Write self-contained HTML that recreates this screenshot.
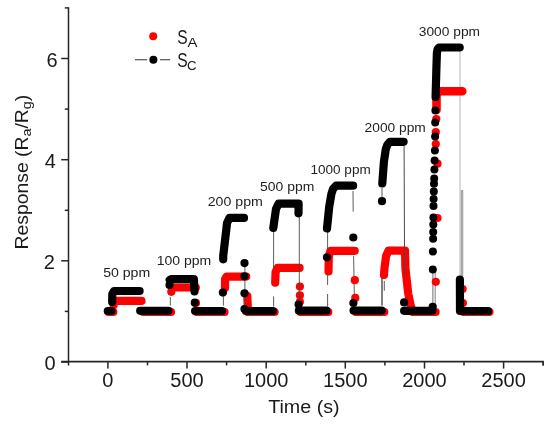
<!DOCTYPE html>
<html><head><meta charset="utf-8"><title>Response vs Time</title>
<style>
html,body{margin:0;padding:0;background:#fff;}
body{width:550px;height:427px;overflow:hidden;}
svg{display:block;}
text{font-family:"Liberation Sans",sans-serif;fill:#1a1a1a;}
.tk{font-size:20px;}
.al{font-size:18px;}
.yl{font-size:17.5px;}
.sub{font-size:13px;}
.pp{font-size:13px;fill:#222;}
.lg{font-size:19.5px;}
.lsub{font-size:13px;}
</style></head><body>
<svg width="550" height="427" viewBox="0 0 550 427">
<rect x="0" y="0" width="550" height="427" fill="#fff"/>
<line x1="68.5" y1="7.3" x2="68.5" y2="365.4" stroke="#262626" stroke-width="1.5"/>
<line x1="61.2" y1="361.6" x2="543.9" y2="361.6" stroke="#262626" stroke-width="1.9"/>
<line x1="61.2" y1="362.0" x2="68.3" y2="362.0" stroke="#262626" stroke-width="1.5"/>
<text x="50.0" y="370.0" text-anchor="middle" class="tk">0</text>
<line x1="64.8" y1="311.4" x2="68.3" y2="311.4" stroke="#262626" stroke-width="1.5"/>
<line x1="61.2" y1="260.8" x2="68.3" y2="260.8" stroke="#262626" stroke-width="1.5"/>
<text x="49.4" y="268.8" text-anchor="middle" class="tk">2</text>
<line x1="64.8" y1="210.3" x2="68.3" y2="210.3" stroke="#262626" stroke-width="1.5"/>
<line x1="61.2" y1="159.7" x2="68.3" y2="159.7" stroke="#262626" stroke-width="1.5"/>
<text x="50.3" y="167.7" text-anchor="middle" class="tk">4</text>
<line x1="64.8" y1="109.1" x2="68.3" y2="109.1" stroke="#262626" stroke-width="1.5"/>
<line x1="61.2" y1="58.5" x2="68.3" y2="58.5" stroke="#262626" stroke-width="1.5"/>
<text x="52.1" y="66.5" text-anchor="middle" class="tk">6</text>
<line x1="64.8" y1="7.9" x2="68.3" y2="7.9" stroke="#262626" stroke-width="1.5"/>
<line x1="107.9" y1="362" x2="107.9" y2="368.6" stroke="#262626" stroke-width="1.5"/>
<text x="107.9" y="386.8" text-anchor="middle" class="tk">0</text>
<line x1="147.5" y1="362" x2="147.5" y2="365.4" stroke="#262626" stroke-width="1.5"/>
<line x1="187.0" y1="362" x2="187.0" y2="368.6" stroke="#262626" stroke-width="1.5"/>
<text x="187.0" y="386.8" text-anchor="middle" class="tk">500</text>
<line x1="226.6" y1="362" x2="226.6" y2="365.4" stroke="#262626" stroke-width="1.5"/>
<line x1="266.2" y1="362" x2="266.2" y2="368.6" stroke="#262626" stroke-width="1.5"/>
<text x="266.2" y="386.8" text-anchor="middle" class="tk">1000</text>
<line x1="305.8" y1="362" x2="305.8" y2="365.4" stroke="#262626" stroke-width="1.5"/>
<line x1="345.3" y1="362" x2="345.3" y2="368.6" stroke="#262626" stroke-width="1.5"/>
<text x="345.3" y="386.8" text-anchor="middle" class="tk">1500</text>
<line x1="384.9" y1="362" x2="384.9" y2="365.4" stroke="#262626" stroke-width="1.5"/>
<line x1="424.5" y1="362" x2="424.5" y2="368.6" stroke="#262626" stroke-width="1.5"/>
<text x="424.5" y="386.8" text-anchor="middle" class="tk">2000</text>
<line x1="464.0" y1="362" x2="464.0" y2="365.4" stroke="#262626" stroke-width="1.5"/>
<line x1="503.6" y1="362" x2="503.6" y2="368.6" stroke="#262626" stroke-width="1.5"/>
<text x="503.6" y="386.8" text-anchor="middle" class="tk">2500</text>
<line x1="543.2" y1="362" x2="543.2" y2="365.4" stroke="#262626" stroke-width="1.5"/>
<line x1="543.2" y1="362" x2="543.2" y2="365.4" stroke="#262626" stroke-width="1.5"/>
<line x1="273.6" y1="232.0" x2="273.6" y2="284.0" stroke="#4a4a4a" stroke-width="0.90"/>
<line x1="327.6" y1="232.0" x2="327.6" y2="285.0" stroke="#4a4a4a" stroke-width="0.90"/>
<line x1="353.6" y1="256.0" x2="354.4" y2="299.0" stroke="#4a4a4a" stroke-width="0.90"/>
<line x1="382.0" y1="278.0" x2="382.0" y2="305.5" stroke="#4a4a4a" stroke-width="0.90"/>
<line x1="432.9" y1="272.0" x2="432.9" y2="305.0" stroke="#4a4a4a" stroke-width="0.80"/>
<line x1="435.2" y1="272.0" x2="435.2" y2="305.0" stroke="#4a4a4a" stroke-width="0.70"/>
<line x1="460.0" y1="47.5" x2="460.0" y2="279.0" stroke="#cfcfcf" stroke-width="1.50"/>
<line x1="462.0" y1="190.0" x2="462.0" y2="276.0" stroke="#a8a8a8" stroke-width="2.60"/>
<polyline points="108.5,312.0 113.3,312.0" stroke="#f00" stroke-width="8.2" fill="none" stroke-linecap="round" stroke-linejoin="round"/>
<polyline points="113.6,305.0 113.8,300.9 141.5,300.9" stroke="#f00" stroke-width="8.2" fill="none" stroke-linecap="round" stroke-linejoin="round"/>
<polyline points="143.4,312.0 171.0,312.0" stroke="#f00" stroke-width="8.2" fill="none" stroke-linecap="round" stroke-linejoin="round"/>
<circle cx="171.3" cy="291.8" r="4.1" fill="#f00"/>
<polyline points="172.0,287.5 195.8,287.5" stroke="#f00" stroke-width="8.2" fill="none" stroke-linecap="round" stroke-linejoin="round"/>
<circle cx="196.0" cy="303.1" r="4.1" fill="#f00"/>
<polyline points="196.5,312.0 224.5,312.0" stroke="#f00" stroke-width="8.2" fill="none" stroke-linecap="round" stroke-linejoin="round"/>
<polyline points="225.0,288.0 225.1,279.0 226.5,276.6 246.2,276.6" stroke="#f00" stroke-width="8.2" fill="none" stroke-linecap="round" stroke-linejoin="round"/>
<polyline points="247.3,296.0 248.0,312.0 274.6,312.0" stroke="#f00" stroke-width="8.2" fill="none" stroke-linecap="round" stroke-linejoin="round"/>
<polyline points="275.2,282.7 275.6,272.0 277.5,267.9 299.6,267.9" stroke="#f00" stroke-width="8.2" fill="none" stroke-linecap="round" stroke-linejoin="round"/>
<circle cx="299.9" cy="286.6" r="4.1" fill="#f00"/>
<circle cx="299.9" cy="295.3" r="4.1" fill="#f00"/>
<circle cx="299.9" cy="301.8" r="4.1" fill="#f00"/>
<polyline points="300.5,312.0 328.3,312.0" stroke="#f00" stroke-width="8.2" fill="none" stroke-linecap="round" stroke-linejoin="round"/>
<polyline points="328.5,271.5 328.8,256.0 330.5,250.8 354.7,250.8" stroke="#f00" stroke-width="8.2" fill="none" stroke-linecap="round" stroke-linejoin="round"/>
<circle cx="354.8" cy="280.2" r="4.1" fill="#f00"/>
<circle cx="355.3" cy="297.9" r="4.1" fill="#f00"/>
<polyline points="356.0,312.0 384.3,312.0" stroke="#f00" stroke-width="8.2" fill="none" stroke-linecap="round" stroke-linejoin="round"/>
<polyline points="384.0,275.0 384.5,268.0 386.1,256.0 388.5,250.6 405.0,250.6 405.4,268.0 408.2,293.5 410.8,306.0 413.0,312.0 435.6,312.0" stroke="#f00" stroke-width="8.2" fill="none" stroke-linecap="round" stroke-linejoin="round"/>
<circle cx="435.8" cy="281.8" r="4.1" fill="#f00"/>
<circle cx="437.5" cy="218.0" r="4.1" fill="#f00"/>
<circle cx="437.5" cy="163.7" r="4.1" fill="#f00"/>
<circle cx="435.8" cy="144.0" r="4.1" fill="#f00"/>
<circle cx="435.8" cy="132.0" r="4.1" fill="#f00"/>
<circle cx="436.3" cy="119.0" r="4.1" fill="#f00"/>
<polyline points="436.5,110.0 436.5,95.0 438.5,91.2 462.3,91.2" stroke="#f00" stroke-width="8.6" fill="none" stroke-linecap="round" stroke-linejoin="round"/>
<circle cx="462.6" cy="289.0" r="4.1" fill="#f00"/>
<circle cx="462.9" cy="303.0" r="4.1" fill="#f00"/>
<polyline points="463.5,312.0 489.4,312.0" stroke="#f00" stroke-width="8.2" fill="none" stroke-linecap="round" stroke-linejoin="round"/>
<line x1="140.0" y1="297.0" x2="140.0" y2="300.6" stroke="#4a4a4a" stroke-width="0.90"/>
<line x1="170.3" y1="297.0" x2="170.3" y2="305.6" stroke="#4a4a4a" stroke-width="0.90"/>
<line x1="223.4" y1="296.5" x2="223.4" y2="305.6" stroke="#4a4a4a" stroke-width="0.90"/>
<line x1="244.9" y1="264.0" x2="244.9" y2="309.0" stroke="#4a4a4a" stroke-width="0.90"/>
<line x1="273.6" y1="296.4" x2="273.6" y2="306.6" stroke="#4a4a4a" stroke-width="0.90"/>
<line x1="299.3" y1="217.0" x2="299.3" y2="306.0" stroke="#4a4a4a" stroke-width="0.90"/>
<line x1="327.6" y1="294.0" x2="327.6" y2="306.6" stroke="#4a4a4a" stroke-width="0.90"/>
<line x1="353.0" y1="191.0" x2="353.2" y2="211.6" stroke="#4a4a4a" stroke-width="0.90"/>
<line x1="382.0" y1="188.0" x2="382.0" y2="197.0" stroke="#4a4a4a" stroke-width="0.90"/>
<line x1="382.0" y1="278.0" x2="382.0" y2="305.5" stroke="#4a4a4a" stroke-width="0.90"/>
<line x1="384.3" y1="281.0" x2="384.3" y2="290.7" stroke="#4a4a4a" stroke-width="0.90"/>
<line x1="404.1" y1="146.0" x2="404.6" y2="276.0" stroke="#4a4a4a" stroke-width="1.00"/>
<polyline points="107.8,311.0 111.5,311.0" stroke="#000" stroke-width="8.2" fill="none" stroke-linecap="round" stroke-linejoin="round"/>
<polyline points="112.2,302.0 112.3,294.0 114.0,291.0 139.6,291.0" stroke="#000" stroke-width="8.2" fill="none" stroke-linecap="round" stroke-linejoin="round"/>
<polyline points="140.2,310.8 168.4,310.8" stroke="#000" stroke-width="8.2" fill="none" stroke-linecap="round" stroke-linejoin="round"/>
<circle cx="169.5" cy="285.0" r="4.1" fill="#000"/>
<polyline points="169.7,280.0 171.0,279.2 193.9,279.2 194.5,291.4" stroke="#000" stroke-width="8.2" fill="none" stroke-linecap="round" stroke-linejoin="round"/>
<circle cx="194.8" cy="302.7" r="4.1" fill="#000"/>
<polyline points="195.1,311.0 222.0,311.0" stroke="#000" stroke-width="8.2" fill="none" stroke-linecap="round" stroke-linejoin="round"/>
<circle cx="222.9" cy="292.6" r="4.1" fill="#000"/>
<polyline points="223.2,259.3 223.2,256.0 226.2,230.5 227.0,223.0 229.5,217.9 244.0,217.9" stroke="#000" stroke-width="8.2" fill="none" stroke-linecap="round" stroke-linejoin="round"/>
<circle cx="244.5" cy="263.1" r="4.1" fill="#000"/>
<circle cx="244.5" cy="276.3" r="4.1" fill="#000"/>
<circle cx="244.5" cy="293.3" r="4.1" fill="#000"/>
<circle cx="244.5" cy="309.0" r="4.1" fill="#000"/>
<polyline points="246.0,311.0 272.9,311.0" stroke="#000" stroke-width="8.2" fill="none" stroke-linecap="round" stroke-linejoin="round"/>
<polyline points="273.3,227.9 276.0,209.0 278.5,203.7 298.6,203.7 298.5,213.3" stroke="#000" stroke-width="8.2" fill="none" stroke-linecap="round" stroke-linejoin="round"/>
<circle cx="298.6" cy="304.6" r="4.1" fill="#000"/>
<polyline points="298.9,310.7 326.4,310.7" stroke="#000" stroke-width="8.2" fill="none" stroke-linecap="round" stroke-linejoin="round"/>
<circle cx="327.0" cy="257.3" r="4.1" fill="#000"/>
<polyline points="327.0,228.5 329.2,206.8 331.4,194.0 333.0,189.0 336.0,185.7 353.1,185.7" stroke="#000" stroke-width="8.2" fill="none" stroke-linecap="round" stroke-linejoin="round"/>
<circle cx="353.3" cy="237.5" r="4.1" fill="#000"/>
<circle cx="353.4" cy="303.0" r="4.1" fill="#000"/>
<polyline points="353.6,310.6 381.7,310.6" stroke="#000" stroke-width="8.2" fill="none" stroke-linecap="round" stroke-linejoin="round"/>
<circle cx="382.0" cy="201.2" r="4.1" fill="#000"/>
<polyline points="382.3,183.5 383.9,161.8 385.8,149.0 387.5,144.5 390.0,141.8 403.6,141.8" stroke="#000" stroke-width="8.2" fill="none" stroke-linecap="round" stroke-linejoin="round"/>
<circle cx="404.1" cy="302.4" r="4.1" fill="#000"/>
<polyline points="404.1,310.8 432.4,310.8" stroke="#000" stroke-width="8.2" fill="none" stroke-linecap="round" stroke-linejoin="round"/>
<circle cx="432.7" cy="306.8" r="4.1" fill="#000"/>
<circle cx="435.4" cy="110.5" r="4.0" fill="#000"/>
<circle cx="435.2" cy="122.6" r="4.0" fill="#000"/>
<circle cx="435.1" cy="136.4" r="4.0" fill="#000"/>
<circle cx="434.9" cy="150.4" r="4.0" fill="#000"/>
<circle cx="434.6" cy="160.5" r="4.0" fill="#000"/>
<circle cx="434.4" cy="169.5" r="4.0" fill="#000"/>
<circle cx="434.2" cy="178.4" r="4.0" fill="#000"/>
<circle cx="434.0" cy="183.8" r="4.0" fill="#000"/>
<circle cx="433.8" cy="191.5" r="4.0" fill="#000"/>
<circle cx="433.6" cy="199.0" r="4.0" fill="#000"/>
<circle cx="433.5" cy="206.0" r="4.0" fill="#000"/>
<circle cx="433.4" cy="217.5" r="4.0" fill="#000"/>
<circle cx="433.3" cy="224.5" r="4.0" fill="#000"/>
<circle cx="433.2" cy="232.0" r="4.0" fill="#000"/>
<circle cx="433.1" cy="238.8" r="4.0" fill="#000"/>
<circle cx="432.9" cy="251.5" r="4.0" fill="#000"/>
<circle cx="432.8" cy="269.6" r="4.0" fill="#000"/>
<polyline points="435.6,97.0 436.4,68.0 436.9,53.0 437.6,49.0 439.0,47.5 459.7,47.5" stroke="#000" stroke-width="8.2" fill="none" stroke-linecap="round" stroke-linejoin="round"/>
<polyline points="459.9,279.5 460.0,311.0 488.1,311.0" stroke="#000" stroke-width="8.2" fill="none" stroke-linecap="round" stroke-linejoin="round"/>
<text transform="translate(303.9,412.9) scale(1.095,1)" text-anchor="middle" class="al">Time (s)</text>
<text transform="translate(27.6,172.1) rotate(-90) scale(1.107,1)" text-anchor="middle" class="yl">Response (R<tspan class="sub" dy="3">a</tspan><tspan dy="-3">/R</tspan><tspan class="sub" dy="3">g</tspan><tspan dy="-3">)</tspan></text>
<text x="103.2" y="276.8" class="pp" textLength="47.0" lengthAdjust="spacingAndGlyphs">50 ppm</text>
<text x="156.7" y="264.9" class="pp" textLength="54.6" lengthAdjust="spacingAndGlyphs">100 ppm</text>
<text x="207.7" y="206.3" class="pp" textLength="55.2" lengthAdjust="spacingAndGlyphs">200 ppm</text>
<text x="260.1" y="190.5" class="pp" textLength="54.2" lengthAdjust="spacingAndGlyphs">500 ppm</text>
<text x="310.5" y="174.2" class="pp" textLength="60.2" lengthAdjust="spacingAndGlyphs">1000 ppm</text>
<text x="364.6" y="132.2" class="pp" textLength="61.2" lengthAdjust="spacingAndGlyphs">2000 ppm</text>
<text x="418.8" y="35.7" class="pp" textLength="61.2" lengthAdjust="spacingAndGlyphs">3000 ppm</text>
<circle cx="153.2" cy="36.3" r="4.0" fill="#f00"/>
<line x1="135.0" y1="59.7" x2="147.0" y2="59.7" stroke="#555" stroke-width="1.20"/>
<line x1="160.0" y1="59.7" x2="170.2" y2="59.7" stroke="#555" stroke-width="1.20"/>
<circle cx="153.4" cy="59.7" r="4.0" fill="#000"/>
<text transform="translate(177.3,44.3) scale(0.800,1)" text-anchor="start" class="lg">S</text>
<text transform="translate(187.4,46.9) scale(1.150,1)" text-anchor="start" class="lsub">A</text>
<text transform="translate(177.3,67.3) scale(0.800,1)" text-anchor="start" class="lg">S</text>
<text transform="translate(187.0,69.5) scale(1.020,1)" text-anchor="start" class="lsub">C</text>
</svg>
</body></html>
